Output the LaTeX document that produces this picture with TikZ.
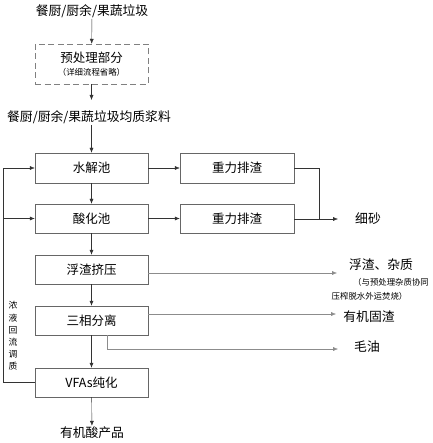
\documentclass[tikz,border=0pt]{standalone}
\usepackage{fontspec}
\setmainfont{Noto Sans CJK SC}
\usetikzlibrary{arrows.meta}

\begin{document}
\begin{tikzpicture}[x=1pt,y=-1pt,
    stage/.style={draw=black!60,minimum width=113pt,minimum height=29pt,inner sep=0pt,font=\fontsize{12.5}{15}\selectfont},
    label/.style={inner sep=1pt,font=\fontsize{12.8}{15}\selectfont},
    note/.style={inner sep=1pt,font=\fontsize{8.4}{10}\selectfont},
    flow/.style={draw=black!80,-{Latex[length=5pt,width=4pt]}},
    side/.style={draw=black!45,-{Latex[length=5pt,width=4pt]}}]

  \useasboundingbox (0,0) rectangle (432,443);

  \node[label] (src) at (92,11) {餐厨/厨余/果蔬垃圾};
  \node[stage,dash pattern=on 6pt off 3.5pt,draw=black!50,minimum height=40pt,align=center] (pre) at (91.5,64)
    {预处理部分\\[-2pt]{\fontsize{8.4}{10}\selectfont （详细流程省略）}};
  \node[label] (slurry) at (89,117) {餐厨/厨余/果蔬垃圾均质浆料};

  \node[stage,minimum height=30pt] (hyd) at (91.5,168) {水解池};
  \node[stage] (acid) at (91.5,218.5) {酸化池};
  \node[stage] (press) at (91.5,269.5) {浮渣挤压};
  \node[stage] (sep) at (91.5,320.5) {三相分离};
  \node[stage] (vfa) at (91.5,382.5) {VFAs纯化};
  \node[label] (prod) at (92,433) {有机酸产品};

  \node[stage,minimum width=114pt,minimum height=30pt] (grav1) at (237,168) {重力排渣};
  \node[stage,minimum width=114pt] (grav2) at (237,218.5) {重力排渣};

  \node[label] (sand) at (368,219) {细砂};
  \node[label] (scum) at (381,265) {浮渣、杂质};
  \node[note] (scumnote1) at (391,282) {（与预处理杂质协同};
  \node[note] (scumnote2) at (369.5,296) {压榨脱水外运焚烧）};
  \node[label] (solid) at (369,317) {有机固渣};
  \node[label] (oil) at (367,347) {毛油};
  \node[note,align=center,font=\fontsize{8.8}{12.2}\selectfont] (reflux) at (13,336)
    {浓\\液\\回\\流\\调\\质};

  \coordinate (sandjoin) at (319,219);
  \coordinate (sandin) at (338,219);
  \coordinate (scumin) at (337,273);
  \coordinate (solidin) at (336,314);
  \coordinate (oilturn) at (107,349);
  \coordinate (oilin) at (338,349);
  \coordinate (back) at (3,382.5);

  \draw[flow] (src) -- (pre);
  \draw[flow] (pre) -- (pre.south |- 0,100);
  \draw[flow] (slurry.south -| hyd.north) -- (hyd);
  \draw[flow] (hyd) -- (acid);
  \draw[flow] (acid) -- (press);
  \draw[flow] (press) -- (sep);
  \draw[flow] (sep) -- (vfa);
  \draw[flow] (vfa) -- (prod);

  \draw[flow] (hyd) -- (grav1);
  \draw[flow] (acid) -- (grav2);
  \draw[draw=black!80] (grav1.east) -| (sandjoin);
  \draw[flow] (grav2.east |- sandin) -- (sandin);

  \draw[side] (scumin -| press.east) -- (scumin);
  \draw[side] (solidin -| sep.east) -- (solidin);
  \draw[side] (sep.south -| oilturn) -- (oilturn) -- (oilin);

  \draw[draw=black!80] (vfa.west) -- (back) -- (back |- hyd);
  \draw[flow] (back |- hyd) -- (hyd.west);
  \draw[flow] (back |- acid) -- (acid.west);

\end{tikzpicture}
\end{document}
